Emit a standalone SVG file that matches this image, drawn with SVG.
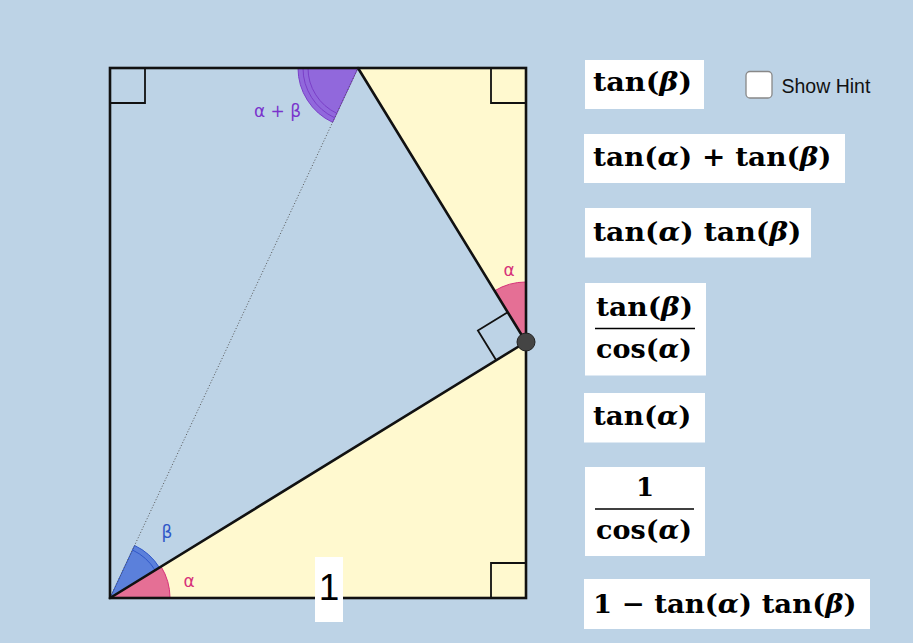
<svg xmlns="http://www.w3.org/2000/svg" width="913" height="643" viewBox="0 0 913 643">
<style>
.edge{stroke:#111;stroke-width:2.6;fill:none;stroke-linecap:round}
.ra{stroke:#111;stroke-width:1.8;fill:none}
.box{fill:#fff}
.f{font-family:"DejaVu Serif","Liberation Serif",serif;font-weight:bold;font-size:26px;fill:#000}
.g{font-style:italic}
.lbl{font-family:"DejaVu Sans","Liberation Sans",sans-serif;font-size:17px}
.frac{stroke:#000;stroke-width:1.6}
</style>
<rect width="913" height="643" fill="#bdd3e6"/>
<g id="figure">
  <rect x="110" y="68" width="416" height="530" fill="#bdd3e6"/>
  <polygon points="110,598 526,598 526,342" fill="#fff9cf"/>
  <polygon points="358,68 526,68 526,342" fill="#fff9cf"/>
</g>
<g id="angles">
  <path d="M110,598 L170,598 A60,60 0 0 0 161.1,566.6 Z" fill="#e56f95" stroke="#d6337a" stroke-width="1"/>
  <path d="M110,598 L159.4,567.6 A58,58 0 0 0 134.6,545.5 Z" fill="#5b80db" stroke="#2f57c8" stroke-width="1"/>
  <path d="M155.1,570.2 A53,53 0 0 0 132.5,550.0" fill="none" stroke="#2f57c8" stroke-width="1"/>
  <path d="M358,68 L298,68 A60,60 0 0 0 332.6,122.3 Z" fill="#9168dc" stroke="#7a3fc8" stroke-width="1"/>
  <path d="M303,68 A55,55 0 0 0 334.7,117.8" fill="none" stroke="#7a3fc8" stroke-width="1"/>
  <path d="M308,68 A50,50 0 0 0 336.8,113.3" fill="none" stroke="#7a3fc8" stroke-width="1"/>
  <path d="M526,342 L526,282 A60,60 0 0 0 494.6,290.8 Z" fill="#e56f95" stroke="#d6337a" stroke-width="1"/>
</g>
<g id="connectors">
  <line x1="110" y1="598" x2="358" y2="68" stroke="#555" stroke-width="1" stroke-dasharray="1,2"/>
  <rect x="110" y="68" width="416" height="530" class="edge"/>
  <line x1="110" y1="598" x2="526" y2="342" class="edge"/>
  <line x1="526" y1="342" x2="358" y2="68" class="edge"/>
  <polyline points="110,103 145,103 145,68" class="ra"/>
  <polyline points="491,68 491,103 526,103" class="ra"/>
  <polyline points="491,598 491,563 526,563" class="ra"/>
  <polyline points="507.7,312.2 477.9,330.5 496.2,360.3" class="ra"/>
</g>
<g id="point">
  <circle cx="526" cy="342" r="9" fill="#444" stroke="#222" stroke-width="1"/>
</g>
<g id="labels">
  <text x="189" y="587" class="lbl" fill="#d6337a" text-anchor="middle">α</text>
  <text x="167" y="538" class="lbl" fill="#2f57c8" text-anchor="middle">β</text>
  <text x="509" y="276" class="lbl" fill="#d6337a" text-anchor="middle">α</text>
  <text x="277.5" y="117" class="lbl" fill="#7a33cc" text-anchor="middle">α + β</text>
</g>
<g id="one">
  <rect x="315" y="557" width="28" height="65" class="box"/>
  <text x="329" y="600" font-family="Liberation Sans, Arial, sans-serif" font-size="37" text-anchor="middle" fill="#000">1</text>
</g>
<g id="hint">
  <rect x="746" y="71.5" width="26" height="26.5" rx="4" fill="#fff" stroke="#888" stroke-width="1.3"/>
  <text x="781.5" y="92.5" font-family="Liberation Sans, Arial, sans-serif" font-size="19.5" fill="#111">Show Hint</text>
</g>
<g id="opt1">
  <rect x="585" y="60" width="119" height="49" class="box"/>
  <text x="593" y="91" class="f" textLength="99" lengthAdjust="spacingAndGlyphs">tan(<tspan class="g">β</tspan>)</text>
</g>
<g id="opt2">
  <rect x="584" y="134" width="261" height="49" class="box"/>
  <text x="593" y="166" class="f" textLength="238.5" lengthAdjust="spacingAndGlyphs">tan(<tspan class="g">α</tspan>) + tan(<tspan class="g">β</tspan>)</text>
</g>
<g id="opt3">
  <rect x="585" y="208" width="226" height="49.5" class="box"/>
  <text x="593" y="240.5" class="f" textLength="208.5" lengthAdjust="spacingAndGlyphs">tan(<tspan class="g">α</tspan>) tan(<tspan class="g">β</tspan>)</text>
</g>
<g id="opt4">
  <rect x="585" y="283" width="121" height="92.5" class="box"/>
  <text x="596" y="315.5" class="f" textLength="97" lengthAdjust="spacingAndGlyphs">tan(<tspan class="g">β</tspan>)</text>
  <line x1="595" y1="328.5" x2="695" y2="328.5" class="frac"/>
  <text x="596" y="358" class="f" textLength="96" lengthAdjust="spacingAndGlyphs">cos(<tspan class="g">α</tspan>)</text>
</g>
<g id="opt5">
  <rect x="584" y="393" width="121" height="49.5" class="box"/>
  <text x="593" y="425" class="f" textLength="98.5" lengthAdjust="spacingAndGlyphs">tan(<tspan class="g">α</tspan>)</text>
</g>
<g id="opt6">
  <rect x="585" y="467" width="120" height="89" class="box"/>
  <text x="645" y="495.5" class="f" text-anchor="middle">1</text>
  <line x1="595" y1="509" x2="694" y2="509" class="frac"/>
  <text x="596" y="539" class="f" textLength="96" lengthAdjust="spacingAndGlyphs">cos(<tspan class="g">α</tspan>)</text>
</g>
<g id="opt7">
  <rect x="584" y="579" width="286" height="50" class="box"/>
  <text x="593" y="612.5" class="f" textLength="263.5" lengthAdjust="spacingAndGlyphs">1 − tan(<tspan class="g">α</tspan>) tan(<tspan class="g">β</tspan>)</text>
</g>
</svg>
